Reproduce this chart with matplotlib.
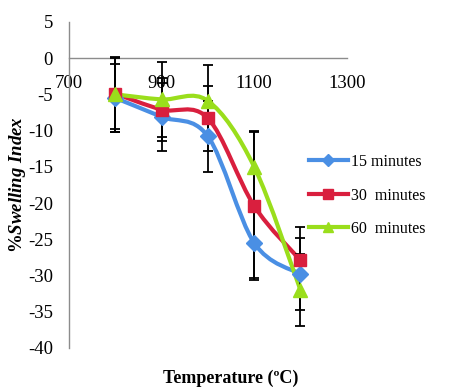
import matplotlib
matplotlib.use("Agg")
import matplotlib.pyplot as plt
from matplotlib.path import Path
from matplotlib.patches import PathPatch
from matplotlib.lines import Line2D

plt.rcParams['font.family'] = 'Liberation Serif'
plt.rcParams['axes.unicode_minus'] = False
plt.rcParams['mathtext.fontset'] = 'custom'
plt.rcParams['mathtext.rm'] = 'Liberation Serif:bold'
plt.rcParams['mathtext.bf'] = 'Liberation Serif:bold'
plt.rcParams['mathtext.it'] = 'Liberation Serif:bold:italic'
plt.rcParams['mathtext.bfit'] = 'Liberation Serif:bold:italic'

temps = [800, 900, 1000, 1100, 1200]
swell_15 = [-5.5, -8.1, -10.8, -25.5, -29.8]
swell_30 = [-4.9, -7.1, -8.3, -20.4, -27.9]
swell_60 = [-5.0, -5.7, -5.9, -15.0, -32.0]
err_15 = [4.7, 4.7, 4.9, 4.8, 5.0]
err_30 = [4.9, 4.3, 4.5, 10.2, 4.6]
err_60 = [5.2, 5.2, 5.0, 5.0, 5.0]
labels = ["15 minutes", "30  minutes", "60  minutes"]
colors = ["#4a8fe4", "#d91f3e", "#9ade1c"]
markers = ["D", "s", "^"]
msizes = [8, 9, 10]


def smooth_path(xs, ys):
    # excel-like smoothed line: catmull-rom as cubic bezier segments
    pts = list(zip(xs, ys))
    verts = [pts[0]]
    codes = [Path.MOVETO]
    n = len(pts)
    for i in range(n - 1):
        p0 = pts[i - 1] if i > 0 else pts[i]
        p1 = pts[i]
        p2 = pts[i + 1]
        p3 = pts[i + 2] if i + 2 < n else pts[i + 1]
        c1 = (p1[0] + (p2[0] - p0[0]) / 6, p1[1] + (p2[1] - p0[1]) / 6)
        c2 = (p2[0] - (p3[0] - p1[0]) / 6, p2[1] - (p3[1] - p1[1]) / 6)
        verts += [c1, c2, p2]
        codes += [Path.CURVE4] * 3
    return Path(verts, codes)


fig = plt.figure(figsize=(4.74, 3.91), dpi=100)
ax = fig.add_axes([0.1456, 0.110, 0.586, 0.834])

series = [(swell_15, err_15), (swell_30, err_30), (swell_60, err_60)]
handles = []
for (ys, es), c, m, ms, lab in zip(series, colors, markers, msizes, labels):
    ax.add_patch(PathPatch(smooth_path(temps, ys), facecolor='none',
                           edgecolor=c, lw=3, zorder=2, capstyle='round'))
    ax.errorbar(temps, ys, yerr=es, fmt='none', ecolor='black', elinewidth=1.3,
                capsize=3.5, capthick=1.3, zorder=3)
    ax.plot(temps, ys, linestyle='none', marker=m, color=c, markersize=ms, zorder=4)
    handles.append(Line2D([], [], color=c, lw=3, marker=m, markersize=ms * 0.75, label=lab))

ax.set_xlim(700, 1300)
ax.set_ylim(-40, 5)
ax.set_xticks([700, 900, 1100, 1300])
ax.set_yticks(range(-40, 6, 5))
ax.spines['top'].set_visible(False)
ax.spines['right'].set_visible(False)
ax.spines['bottom'].set_position(('data', 0))
for s in ['left', 'bottom']:
    ax.spines[s].set_color('#8c8c8c')
    ax.spines[s].set_linewidth(1)
ax.tick_params(axis='both', length=0, labelsize=13.5)
ax.tick_params(axis='y', pad=11.5)
ax.tick_params(axis='x', pad=12)

ax.set_ylabel(r'%$\mathit{Swelling\ Index}$', fontsize=13.5, fontweight='bold')
ax.yaxis.set_label_coords(-0.147, 0.5)
fig.text(0.487, 0.033, 'Temperature (ºC)', fontsize=13, fontweight='bold',
         ha='center', va='center')

ax.legend(handles=handles, loc='center left', bbox_to_anchor=(0.622, 0.50),
          bbox_transform=fig.transFigure, frameon=False, fontsize=11.5,
          handlelength=2.4, handletextpad=0.2, labelspacing=1.1)

fig.savefig('out.png', dpi=100)
